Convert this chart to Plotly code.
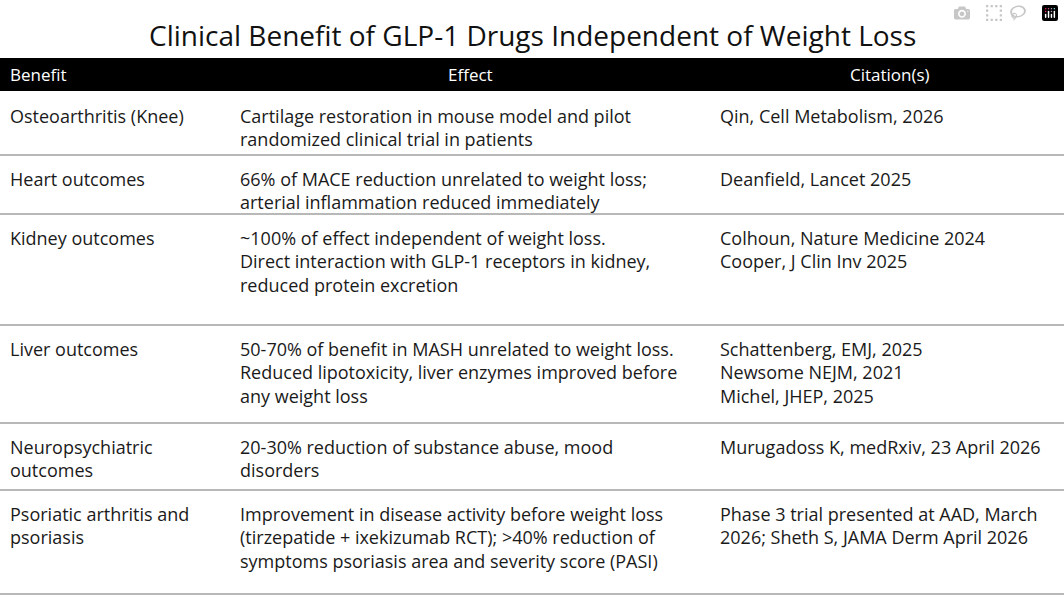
import plotly.graph_objects as go

title = "Clinical Benefit of GLP-1 Drugs Independent of Weight Loss"
headers = ["Benefit", "Effect", "Citation(s)"]
benefits = ["Osteoarthritis (Knee)", "Heart outcomes", "Kidney outcomes", "Liver outcomes",
            "Neuropsychiatric<br>outcomes", "Psoriatic arthritis and<br>psoriasis"]
effects = [
    "Cartilage restoration in mouse model and pilot<br>randomized clinical trial in patients",
    "66% of MACE reduction unrelated to weight loss;<br>arterial inflammation reduced immediately",
    "~100% of effect independent of weight loss.<br>Direct interaction with GLP-1 receptors in kidney,<br>reduced protein excretion",
    "50-70% of benefit in MASH unrelated to weight loss.<br>Reduced lipotoxicity, liver enzymes improved before<br>any weight loss",
    "20-30% reduction of substance abuse, mood<br>disorders",
    "Improvement in disease activity before weight loss<br>(tirzepatide + ixekizumab RCT); >40% reduction of<br>symptoms psoriasis area and severity score (PASI)",
]
citations = [
    "Qin, Cell Metabolism, 2026",
    "Deanfield, Lancet 2025",
    "Colhoun, Nature Medicine 2024<br>Cooper, J Clin Inv 2025",
    "Schattenberg, EMJ, 2025<br>Newsome NEJM, 2021<br>Michel, JHEP, 2025",
    "Murugadoss K, medRxiv, 23 April 2026",
    "Phase 3 trial presented at AAD, March<br>2026; Sheth S, JAMA Derm April 2026",
]

row_bounds = [92, 155, 214, 325, 423, 490, 594]
col_x = [8, 238, 718]
FONT = "Open Sans, sans-serif"

fig = go.Figure()
fig.add_trace(go.Scatter(x=[0, 1064], y=[0, 598], mode="markers", marker=dict(opacity=0), hoverinfo="skip"))

shapes = [dict(type="rect", xref="x", yref="y", x0=0, x1=1064, y0=58, y1=91,
               fillcolor="black", line=dict(width=0))]
for yb in row_bounds[1:]:
    shapes.append(dict(type="line", xref="x", yref="y", x0=0, x1=1064, y0=yb, y1=yb,
                       line=dict(color="#a0a0a0", width=1.5)))

ann = [dict(text=title, x=532, y=35, xref="x", yref="y", showarrow=False,
            font=dict(family=FONT, size=28, color="#111"))]
ann.append(dict(text=headers[0], x=col_x[0], y=74, xref="x", yref="y", xanchor="left",
                showarrow=False, font=dict(family=FONT, size=17, color="white")))
ann.append(dict(text=headers[1], x=470, y=74, xref="x", yref="y", showarrow=False,
                font=dict(family=FONT, size=17, color="white")))
ann.append(dict(text=headers[2], x=890, y=74, xref="x", yref="y", showarrow=False,
                font=dict(family=FONT, size=17, color="white")))
for i in range(len(benefits)):
    top = row_bounds[i] + 10
    for cx, txt in zip(col_x, [benefits[i], effects[i], citations[i]]):
        ann.append(dict(text=txt, x=cx, y=top, xref="x", yref="y", xanchor="left", yanchor="top",
                        align="left", showarrow=False,
                        font=dict(family=FONT, size=18, color="#1a1a1a")))

fig.update_layout(width=1064, height=598, margin=dict(l=0, r=0, t=0, b=0),
                  paper_bgcolor="white", plot_bgcolor="white", showlegend=False,
                  xaxis=dict(range=[0, 1064], visible=False, fixedrange=True),
                  yaxis=dict(range=[598, 0], visible=False, fixedrange=True),
                  shapes=shapes, annotations=ann)
fig.write_html("out.html")
with open("out.html", encoding="utf-8") as f:
    html = f.read()
html = html.replace("<body>", '<body style="margin:0;overflow:hidden">', 1)
with open("out.html", "w", encoding="utf-8") as f:
    f.write(html)
